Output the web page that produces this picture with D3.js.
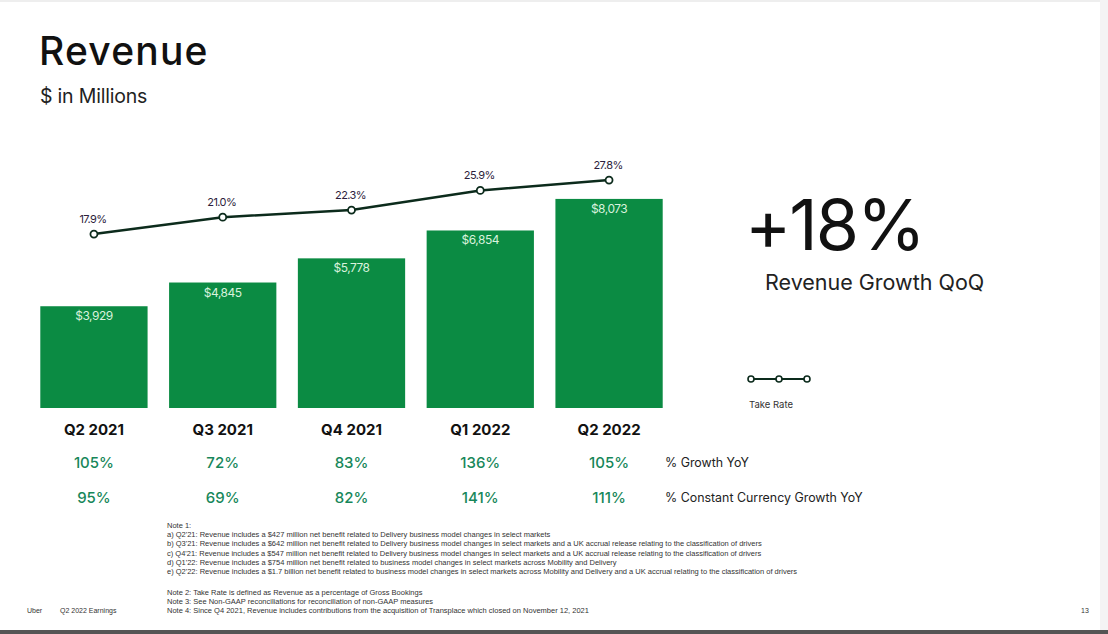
<!DOCTYPE html>
<html>
<head>
<meta charset="utf-8">
<script src="https://cdn.jsdelivr.net/npm/d3@7"></script>
<style>
  body { margin: 0; background: #fff; }
  svg { display: block; font-family: Inter, "Noto Sans", sans-serif; }
</style>
</head>
<body>
<div id="chart"></div>
<script>
// data
let quarters = ["Q2 2021", "Q3 2021", "Q4 2021", "Q1 2022", "Q2 2022"];
let revenue = [3929, 4845, 5778, 6854, 8073];
let take_rate = [17.9, 21.0, 22.3, 25.9, 27.8];
let growth_yoy = [105, 72, 83, 136, 105];
let growth_cc = [95, 69, 82, 141, 111];
let notes_1 = [
    "Note 1:",
    "a) Q2'21: Revenue includes a $427 million net benefit related to Delivery business model changes in select markets",
    "b) Q3'21: Revenue includes a $642 million net benefit related to Delivery business model changes in select markets and a UK accrual release relating to the classification of drivers",
    "c) Q4'21: Revenue includes a $547 million net benefit related to Delivery business model changes in select markets and a UK accrual release relating to the classification of drivers",
    "d) Q1'22: Revenue includes a $754 million net benefit related to business model changes in select markets across Mobility and Delivery",
    "e) Q2'22: Revenue includes a $1.7 billion net benefit related to business model changes in select markets across Mobility and Delivery and a UK accrual relating to the classification of drivers"
];
let notes_2 = [
    "Note 2: Take Rate is defined as Revenue as a percentage of Gross Bookings",
    "Note 3: See Non-GAAP reconciliations for reconciliation of non-GAAP measures",
    "Note 4: Since Q4 2021, Revenue includes contributions from the acquisition of Transplace which closed on November 12, 2021"
];

let width = 1108, height = 634;
let bar_color = "#0b8b43";
let line_color = "#0c2b1c";
let pct_color = "#17875a";

let svg = d3.select("#chart").append("svg")
    .attr("width", width)
    .attr("height", height);

// frame lines
svg.append("line").attr("x1", 0).attr("x2", width).attr("y1", 1).attr("y2", 1)
    .attr("stroke", "#eeeeee").attr("stroke-width", 2);
svg.append("rect").attr("x", 0).attr("y", 630).attr("width", width).attr("height", 4)
    .attr("fill", "#555");
svg.append("rect").attr("x", 1100).attr("y", 0).attr("width", 8).attr("height", 630)
    .attr("fill", "#f4f4f4");

// title
svg.append("text").attr("x", 39).attr("y", 65)
    .attr("font-size", 39).attr("font-weight", 500).attr("letter-spacing", 1.2)
    .attr("fill", "#111")
    .text("Revenue");
svg.append("text").attr("x", 40).attr("y", 103)
    .attr("font-size", 19.5).attr("letter-spacing", -0.2).attr("fill", "#222")
    .text("$ in Millions");

// scales
let x = d3.scaleBand()
    .domain(quarters)
    .range([30, 673])
    .paddingInner(0.167)
    .paddingOuter(0.08);

let y = d3.scaleLinear()
    .domain([0, 10000])
    .range([408, 149]);

let y_rate = d3.scaleLinear()
    .domain([0, 40])
    .range([331.6, 113.6]);

// bars
svg.selectAll(".bar")
    .data(revenue)
    .enter().append("rect")
    .attr("class", "bar")
    .attr("x", (d, i) => x(quarters[i]))
    .attr("width", x.bandwidth())
    .attr("y", d => y(d))
    .attr("height", d => y(0) - y(d))
    .attr("fill", bar_color);

svg.selectAll(".bar_label")
    .data(revenue)
    .enter().append("text")
    .attr("class", "bar_label")
    .attr("x", (d, i) => x(quarters[i]) + x.bandwidth() / 2)
    .attr("y", d => y(d) + 14)
    .attr("text-anchor", "middle")
    .attr("font-size", 12)
    .attr("letter-spacing", -0.5)
    .attr("fill", "#d8f2dd")
    .text(d => "$" + d3.format(",")(d));

// take rate line
let line = d3.line()
    .x((d, i) => x(quarters[i]) + x.bandwidth() / 2)
    .y(d => y_rate(d));

svg.append("path")
    .datum(take_rate)
    .attr("d", line)
    .attr("fill", "none")
    .attr("stroke", line_color)
    .attr("stroke-width", 2.5);

svg.selectAll(".rate_dot")
    .data(take_rate)
    .enter().append("circle")
    .attr("class", "rate_dot")
    .attr("cx", (d, i) => x(quarters[i]) + x.bandwidth() / 2)
    .attr("cy", d => y_rate(d))
    .attr("r", 3.5)
    .attr("fill", "#fff")
    .attr("stroke", line_color)
    .attr("stroke-width", 1.8);

svg.selectAll(".rate_label")
    .data(take_rate)
    .enter().append("text")
    .attr("class", "rate_label")
    .attr("x", (d, i) => x(quarters[i]) + x.bandwidth() / 2 - 1)
    .attr("y", d => y_rate(d) - 11)
    .attr("text-anchor", "middle")
    .attr("font-size", 11)
    .attr("letter-spacing", -0.6)
    .attr("fill", "#2d1e3c")
    .text(d => d3.format(".1f")(d) + "%");

// category axis
let x_axis = svg.append("g")
    .attr("transform", "translate(0,408)")
    .call(d3.axisBottom(x).tickSize(0).tickPadding(16));
x_axis.select(".domain").remove();
x_axis.selectAll("text")
    .attr("font-size", 15)
    .attr("font-weight", 700)
    .attr("font-family", "Inter, sans-serif")
    .attr("fill", "#111");

// growth rows
let rows = [
    {vals: growth_yoy, y: 468, label: "% Growth YoY"},
    {vals: growth_cc, y: 503, label: "% Constant Currency Growth YoY"}
];
rows.forEach(function (r) {
    svg.selectAll(null)
        .data(r.vals)
        .enter().append("text")
        .attr("x", (d, i) => x(quarters[i]) + x.bandwidth() / 2)
        .attr("y", r.y)
        .attr("text-anchor", "middle")
        .attr("font-size", 15)
        .attr("font-weight", 500)
        .attr("fill", pct_color)
        .text(d => d + "%");
    svg.append("text")
        .attr("x", 665).attr("y", r.y - 1)
        .attr("font-size", 12.4)
        .attr("fill", "#222")
        .text(r.label);
});

// big callout
svg.append("text").attr("x", 745).attr("y", 250)
    .attr("font-size", 70).attr("font-weight", 400).attr("letter-spacing", -2)
    .attr("fill", "#111")
    .text("+18%");
svg.append("text").attr("x", 765).attr("y", 290)
    .attr("font-size", 21.5).attr("fill", "#222")
    .text("Revenue Growth QoQ");

// legend
let legend = svg.append("g").attr("transform", "translate(751,379)");
legend.append("line").attr("x1", 0).attr("x2", 56)
    .attr("stroke", line_color).attr("stroke-width", 2);
legend.selectAll("circle")
    .data([0, 28, 56])
    .enter().append("circle")
    .attr("cx", d => d).attr("r", 3)
    .attr("fill", "#fff").attr("stroke", line_color).attr("stroke-width", 1.6);
legend.append("text").attr("x", -2).attr("y", 29)
    .attr("font-size", 9.5).attr("fill", "#333")
    .text("Take Rate");

// footnotes
let note_font = "'Liberation Sans', Arial, sans-serif";
svg.selectAll(".note1")
    .data(notes_1)
    .enter().append("text")
    .attr("class", "note1")
    .attr("x", 167)
    .attr("y", (d, i) => 528 + i * 9.2)
    .attr("font-size", 7.5)
    .attr("font-family", note_font)
    .attr("fill", "#333")
    .text(d => d);

svg.selectAll(".note2")
    .data(notes_2)
    .enter().append("text")
    .attr("class", "note2")
    .attr("x", 167)
    .attr("y", (d, i) => 595 + i * 8.8)
    .attr("font-size", 7.5)
    .attr("font-family", note_font)
    .attr("fill", "#333")
    .text(d => d);

svg.append("text").attr("x", 27).attr("y", 613)
    .attr("font-size", 7).attr("font-family", note_font).attr("fill", "#333").text("Uber");
svg.append("text").attr("x", 60).attr("y", 613)
    .attr("font-size", 7).attr("font-family", note_font).attr("fill", "#333").text("Q2 2022 Earnings");
svg.append("text").attr("x", 1081).attr("y", 613)
    .attr("font-size", 7).attr("font-family", note_font).attr("fill", "#333").text("13");
</script>
</body>
</html>
